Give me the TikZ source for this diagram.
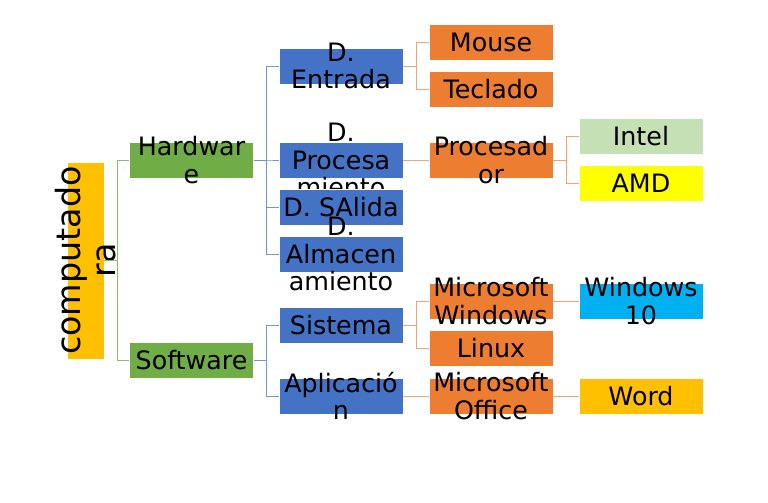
\documentclass[tikz,border=0pt]{standalone}
\usepackage{fontspec}
\setmainfont{DejaVu Sans}
\usetikzlibrary{positioning}

\definecolor{cYellow}{HTML}{FFC000}
\definecolor{cGreen}{HTML}{70AD47}
\definecolor{cBlue}{HTML}{4472C4}
\definecolor{cOrange}{HTML}{ED7D31}
\definecolor{cLightGreen}{HTML}{C5E0B4}
\definecolor{cPureYellow}{HTML}{FFFF00}
\definecolor{cCyan}{HTML}{00B0F0}

\begin{document}
\begin{tikzpicture}[x=0.75pt,y=-0.75pt]

\tikzstyle{box} = [draw=white, line width=0.3pt, minimum width=93pt, minimum height=27pt, inner sep=0pt]
\tikzstyle{lbl} = [inner sep=0pt, align=center, font=\fontsize{19}{20.5}\selectfont]
\tikzstyle{greenline} = [draw=cGreen!80, line width=0.7pt]
\tikzstyle{blueline} = [draw=cBlue!75, line width=0.7pt]
\tikzstyle{orangeline} = [draw=cOrange!70, line width=0.7pt]
\def\d{13}

\fill [white] (0,0) rectangle (768,503);
\useasboundingbox (0,0) rectangle (768,503);

% root and first level
\node [box, fill=cYellow, minimum width=27.75pt, minimum height=147.75pt,
       label={[lbl, rotate=90, font=\fontsize{25}{26.5}\selectfont]center:computado\\ra}] (comp) at (85.5,260.5) {};
\node [box, fill=cGreen, label={[lbl]center:Hardwar\\e}] (hw) at (191.5,160) {};
\node [box, fill=cGreen, label={[lbl]center:Software}] (sw) at (191.5,360) {};

% second level
\node [box, fill=cBlue, label={[lbl]center:D.\\Entrada}] (ent) at (341,66) {};
\node [box, fill=cBlue, label={[lbl]center:D.\\Procesa\\miento}] (proc) at (341,160) {};
\node [box, fill=cBlue, label={[lbl]center:D. SAlida}] (sal) at (341,207) {};
\node [box, fill=cBlue, label={[lbl]center:D.\\Almacen\\amiento}] (alm) at (341,254) {};
\node [box, fill=cBlue, label={[lbl]center:Sistema}] (sis) at (341,325) {};
\node [box, fill=cBlue, label={[lbl]center:Aplicació\\n}] (apl) at (341,396) {};

% third level
\node [box, fill=cOrange, label={[lbl]center:Mouse}] (mouse) at (491,42) {};
\node [box, fill=cOrange, label={[lbl]center:Teclado}] (tecl) at (491,89) {};
\node [box, fill=cOrange, label={[lbl]center:Procesad\\or}] (procr) at (491,160) {};
\node [box, fill=cOrange, label={[lbl]center:Microsoft\\Windows}] (mwin) at (491,301) {};
\node [box, fill=cOrange, label={[lbl]center:Linux}] (linux) at (491,348) {};
\node [box, fill=cOrange, label={[lbl]center:Microsoft\\Office}] (moff) at (491,396) {};

% fourth level
\node [box, fill=cLightGreen, label={[lbl]center:Intel}] (intel) at (641,136) {};
\node [box, fill=cPureYellow, label={[lbl]center:AMD}] (amd) at (641,183) {};
\node [box, fill=cCyan, label={[lbl]center:Windows\\10}] (w10) at (641,301) {};
\node [box, fill=cYellow, label={[lbl]center:Word}] (word) at (641,396) {};

% connectors
\draw [greenline] (comp.east) -- ++(\d,0) |- (hw.west);
\draw [greenline] (comp.east) -- ++(\d,0) |- (sw.west);

\draw [blueline] (hw.east) -- ++(\d,0) |- (ent.west);
\draw [blueline] (hw.east) -- ++(\d,0) |- (proc.west);
\draw [blueline] (hw.east) -- ++(\d,0) |- (sal.west);
\draw [blueline] (hw.east) -- ++(\d,0) |- (alm.west);
\draw [blueline] (sw.east) -- ++(\d,0) |- (sis.west);
\draw [blueline] (sw.east) -- ++(\d,0) |- (apl.west);

\draw [orangeline] (ent.east) -- ++(\d,0) |- (mouse.west);
\draw [orangeline] (ent.east) -- ++(\d,0) |- (tecl.west);
\draw [orangeline] (proc.east) -- (procr.west);
\draw [orangeline] (sis.east) -- ++(\d,0) |- (mwin.west);
\draw [orangeline] (sis.east) -- ++(\d,0) |- (linux.west);
\draw [orangeline] (apl.east) -- (moff.west);

\draw [orangeline] (procr.east) -- ++(\d,0) |- (intel.west);
\draw [orangeline] (procr.east) -- ++(\d,0) |- (amd.west);
\draw [orangeline] (mwin.east) -- (w10.west);
\draw [orangeline] (moff.east) -- (word.west);

\end{tikzpicture}
\end{document}
